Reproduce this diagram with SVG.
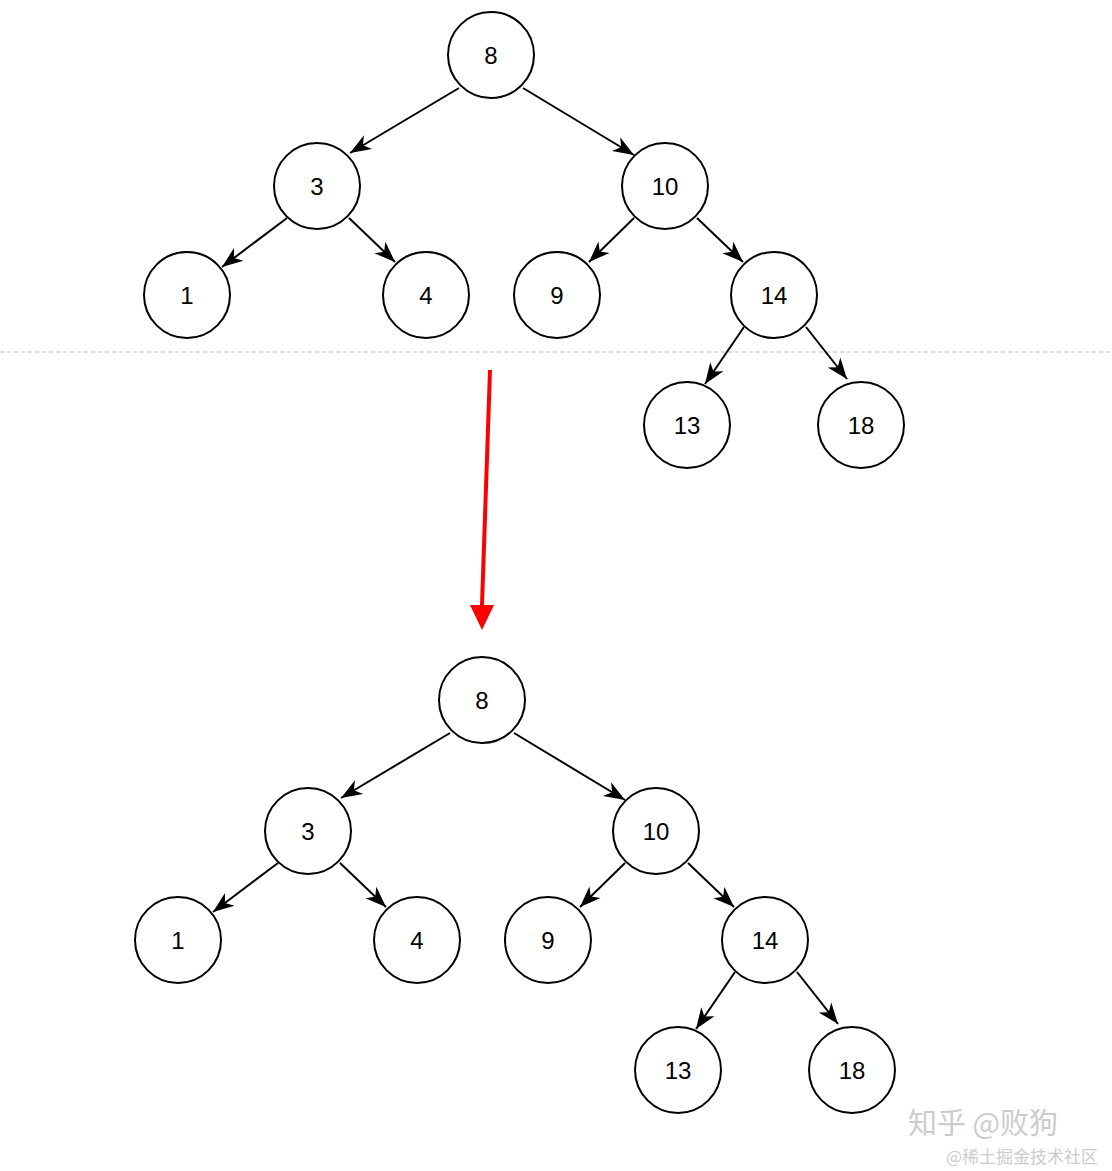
<svg xmlns="http://www.w3.org/2000/svg" width="1112" height="1171" viewBox="0 0 1112 1171">
<style>
.n circle{fill:#fff;stroke:#000;stroke-width:2}
.n text{font-family:"Liberation Sans",Arial,sans-serif;font-size:24px;text-anchor:middle;dominant-baseline:central;fill:#000}
.e line{stroke:#000;stroke-width:2;marker-end:url(#a)}
.wm{font-family:"Noto Sans CJK SC",sans-serif;fill:#ccc}
</style>
<defs>
<marker id="a" markerUnits="userSpaceOnUse" markerWidth="24" markerHeight="24" viewBox="0 0 24 24" refX="21" refY="12" orient="auto"><path d="M0,4 L21,12 L0,20 L6,12 Z" fill="#000"/></marker>
</defs>
<rect width="1112" height="1171" fill="#fff"/>
<line x1="0" y1="352" x2="1112" y2="352" stroke="#bbb" stroke-width="1" stroke-dasharray="4,3"/>
<g id="arrow-red"><path d="M488,370 L492,370 L484,605 L494,605 L482,630 L470,605 L480,605 Z" fill="#f00"/></g>
<g id="connectors" class="e">
<line x1="459" y1="88" x2="350" y2="153"/>
<line x1="523" y1="88" x2="634" y2="155"/>
<line x1="287" y1="218" x2="222" y2="267"/>
<line x1="349" y1="218" x2="395" y2="262"/>
<line x1="634" y1="218" x2="589" y2="262"/>
<line x1="697" y1="218" x2="743" y2="262"/>
<line x1="744" y1="327" x2="705" y2="384"/>
<line x1="806" y1="327" x2="847" y2="379"/>
<line x1="450" y1="733" x2="341" y2="798"/>
<line x1="514" y1="733" x2="625" y2="800"/>
<line x1="278" y1="863" x2="213" y2="912"/>
<line x1="340" y1="863" x2="386" y2="907"/>
<line x1="625" y1="863" x2="580" y2="907"/>
<line x1="688" y1="863" x2="734" y2="907"/>
<line x1="735" y1="972" x2="696" y2="1029"/>
<line x1="797" y1="972" x2="838" y2="1024"/>
</g>
<g id="t8" class="n"><circle cx="491" cy="55" r="43"/><text x="491" y="55">8</text></g>
<g id="t3" class="n"><circle cx="317" cy="186" r="43"/><text x="317" y="186">3</text></g>
<g id="t10" class="n"><circle cx="665" cy="186" r="43"/><text x="665" y="186">10</text></g>
<g id="t1" class="n"><circle cx="187" cy="295" r="43"/><text x="187" y="295">1</text></g>
<g id="t4" class="n"><circle cx="426" cy="295" r="43"/><text x="426" y="295">4</text></g>
<g id="t9" class="n"><circle cx="557" cy="295" r="43"/><text x="557" y="295">9</text></g>
<g id="t14" class="n"><circle cx="774" cy="295" r="43"/><text x="774" y="295">14</text></g>
<g id="t13" class="n"><circle cx="687" cy="425" r="43"/><text x="687" y="425">13</text></g>
<g id="t18" class="n"><circle cx="861" cy="425" r="43"/><text x="861" y="425">18</text></g>
<g id="b8" class="n"><circle cx="482" cy="700" r="43"/><text x="482" y="700">8</text></g>
<g id="b3" class="n"><circle cx="308" cy="831" r="43"/><text x="308" y="831">3</text></g>
<g id="b10" class="n"><circle cx="656" cy="831" r="43"/><text x="656" y="831">10</text></g>
<g id="b1" class="n"><circle cx="178" cy="940" r="43"/><text x="178" y="940">1</text></g>
<g id="b4" class="n"><circle cx="417" cy="940" r="43"/><text x="417" y="940">4</text></g>
<g id="b9" class="n"><circle cx="548" cy="940" r="43"/><text x="548" y="940">9</text></g>
<g id="b14" class="n"><circle cx="765" cy="940" r="43"/><text x="765" y="940">14</text></g>
<g id="b13" class="n"><circle cx="678" cy="1070" r="43"/><text x="678" y="1070">13</text></g>
<g id="b18" class="n"><circle cx="852" cy="1070" r="43"/><text x="852" y="1070">18</text></g>
<text class="wm" x="908" y="1134" font-size="29">知乎 @败狗</text>
<text class="wm" x="946" y="1163" font-size="17" fill="#bbb">@稀土掘金技术社区</text>
</svg>
